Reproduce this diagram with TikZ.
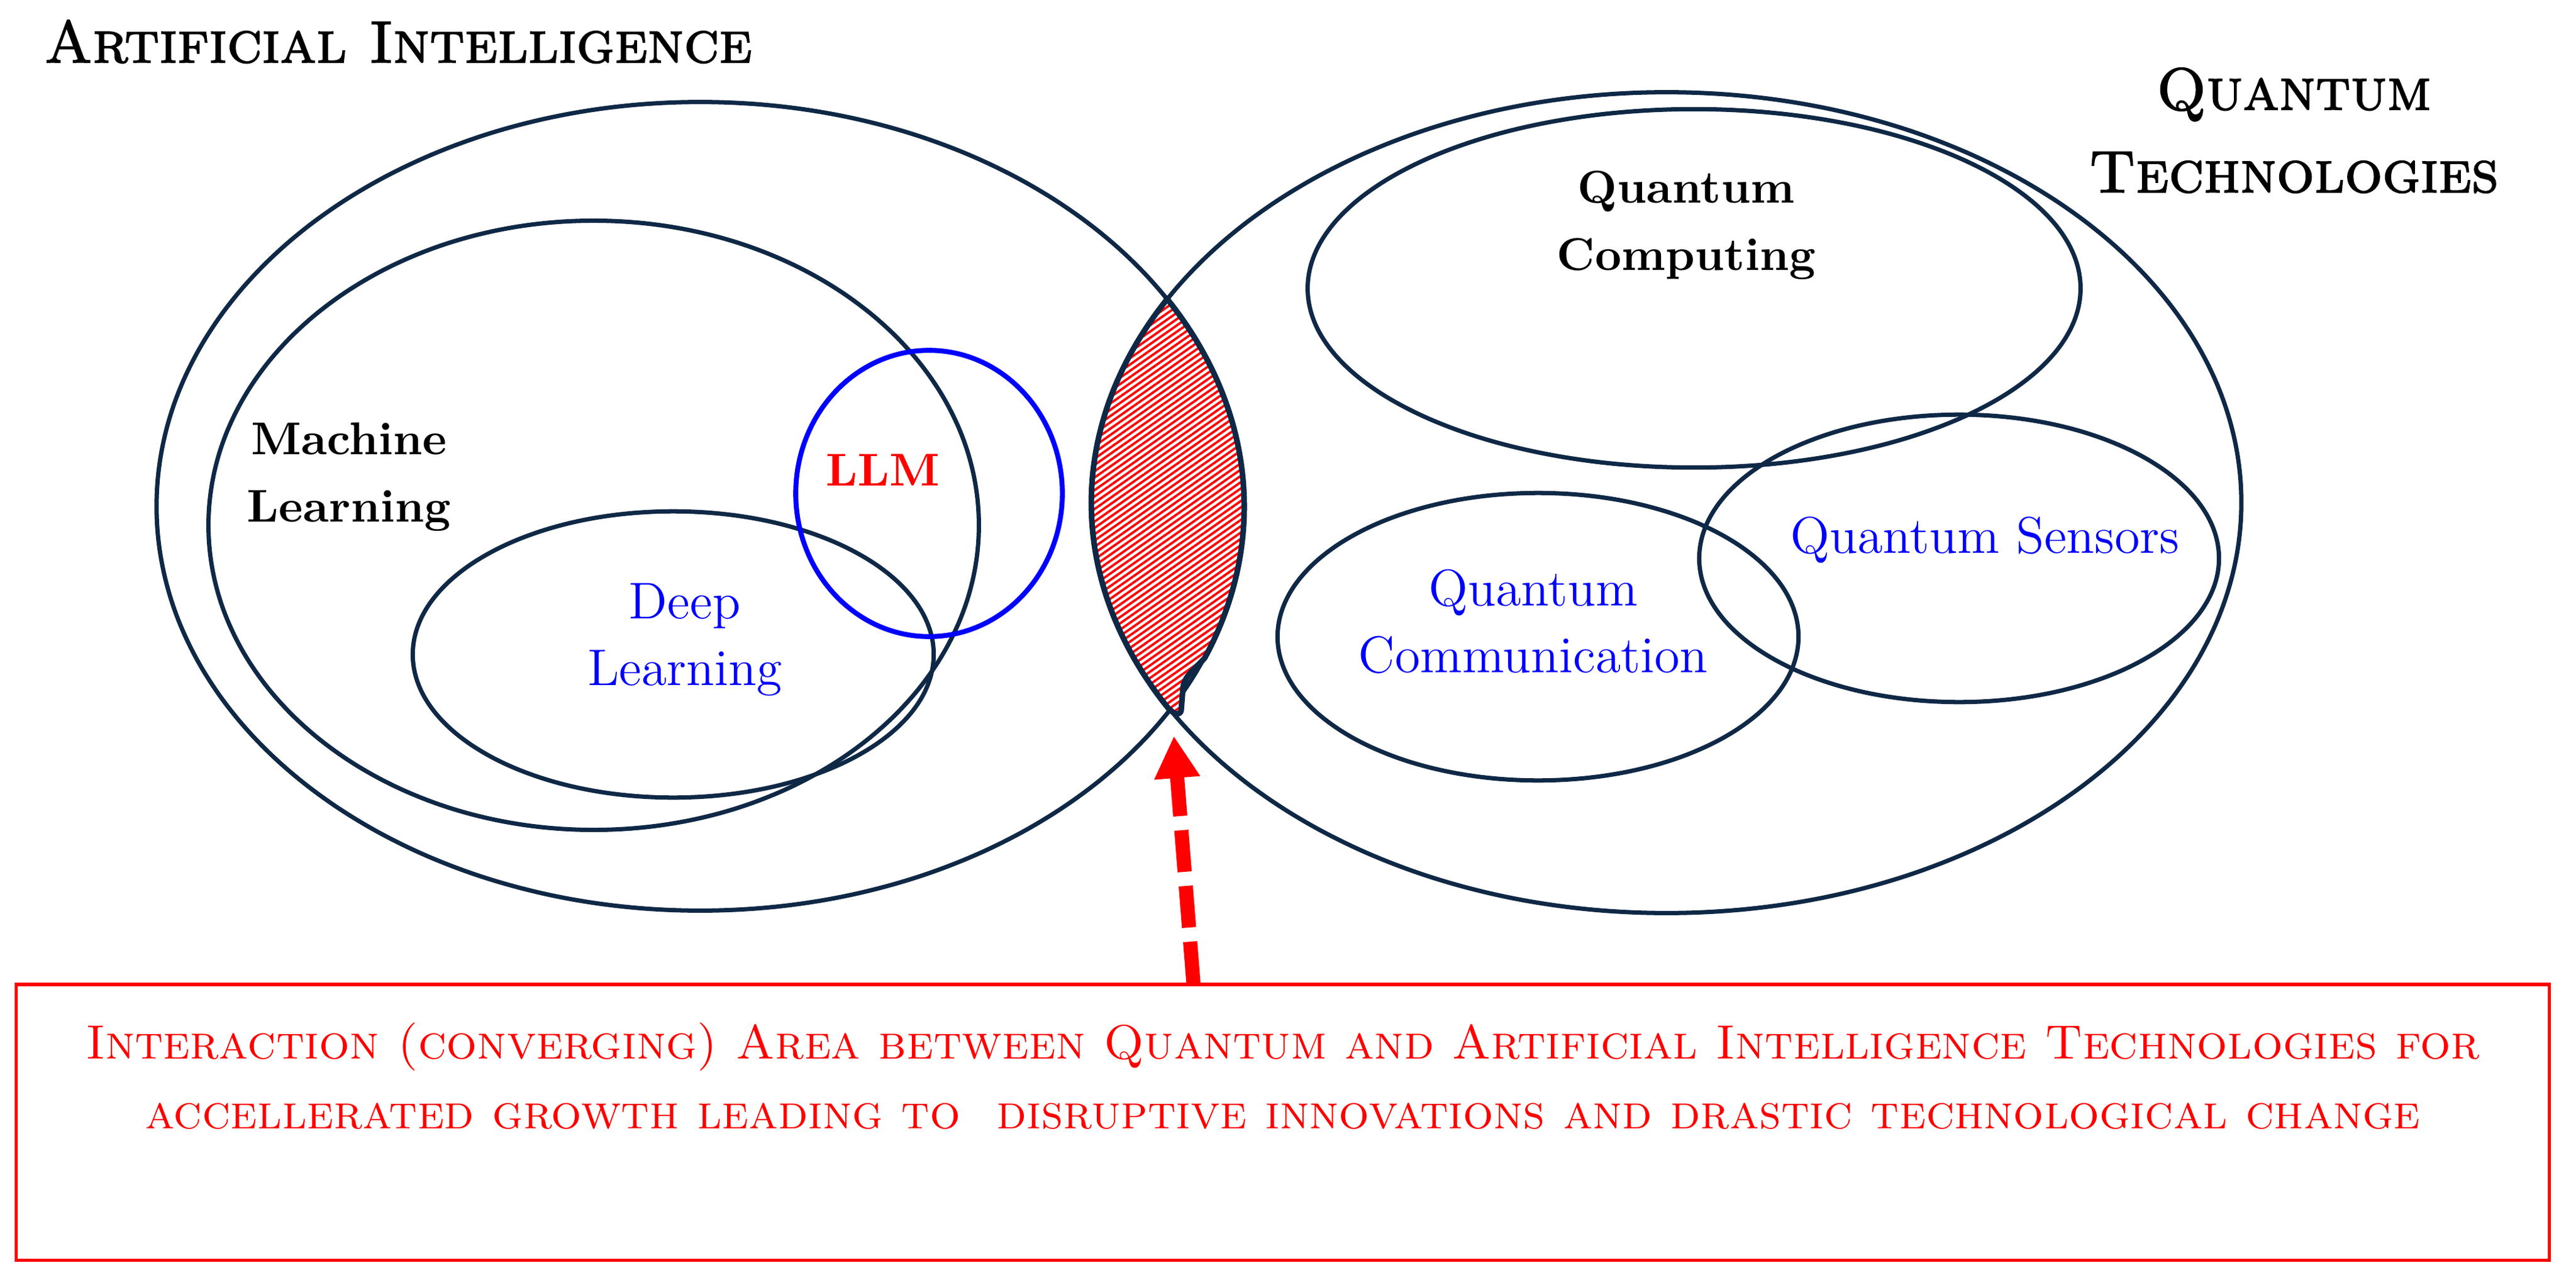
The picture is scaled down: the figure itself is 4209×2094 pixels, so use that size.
\documentclass[tikz,border=0pt]{standalone}
\usepackage{fontspec}
\usepackage{tikz}
\usetikzlibrary{shapes.geometric,positioning,arrows.meta,patterns.meta}

\newfontfamily\titleFont{lmromancaps10-regular.otf}[FakeBold=2]
\definecolor{lineNavy}{RGB}{14,40,70}

\tikzstyle{setNode} = [ellipse, draw=lineNavy, line width=1pt, inner sep=0pt]
\tikzstyle{llmNode} = [ellipse, draw=blue, line width=1.15pt, inner sep=0pt]
\tikzstyle{titleText} = [font=\fontsize{13.8}{19.2}\titleFont, align=center, inner sep=0pt]
\tikzstyle{boldText} = [font=\fontsize{10.7}{15.7}\selectfont\bfseries, align=center, inner sep=0pt]
\tikzstyle{blueText} = [font=\fontsize{12}{15.5}\selectfont, text=blue, align=center, inner sep=0pt]
\tikzstyle{infoText} = [font=\fontsize{11.2}{16.2}\selectfont\scshape, text=red, align=center, inner sep=0pt]
\tikzstyle{boxNode} = [rectangle, draw=red, line width=0.8pt]
\tikzstyle{lensArea} = [draw=lineNavy, line width=1.3pt, line join=round, preaction={fill=white}, pattern={Lines[angle=35,distance=1.2pt,line width=0.55pt]}, pattern color=red]
\tikzstyle{redArrow} = [red, line width=3.3pt, dash pattern=on 9.7pt off 3.3pt, -{Triangle[width=10pt,length=9.8pt]}]

\begin{document}
\begin{tikzpicture}[x=0.005cm, y=-0.005cm]
    \useasboundingbox (0,0) rectangle (4209,2094);

    % sets
    \node (ai)[setNode, minimum width=8.89cm, minimum height=6.61cm] at (1144,827) {};
    \node (qt)[setNode, minimum width=9.40cm, minimum height=6.71cm] at (2723,821) {};
    \node (ml)[setNode, minimum width=6.30cm, minimum height=4.98cm] at (970,858) {};
    \node (dl)[setNode, minimum width=4.26cm, minimum height=2.34cm] at (1100,1069) {};
    \node (llm)[llmNode, minimum width=2.18cm, minimum height=2.34cm] at (1518,806) {};
    \node (qc)[setNode, minimum width=6.32cm, minimum height=2.93cm] at (2768,471) {};
    \node (qcomm)[setNode, minimum width=4.26cm, minimum height=2.35cm] at (2513,1040) {};
    \node (qs)[setNode, minimum width=4.25cm, minimum height=2.35cm] at (3201,912) {};

    % labels
    \node (aiTitle)[titleText, anchor=base west] at (71,102) {Artificial Intelligence};
    \node (qtTitle)[titleText] at (3748,213) {Quantum\\Technologies};
    \node (mlText)[boldText] at (570,779) {Machine\\Learning};
    \node (llmText)[boldText, text=red] at (1443,768) {LLM};
    \node (dlText)[blueText] at (1119,1045) {Deep\\Learning};
    \node (qcText)[boldText] at (2755,368) {Quantum\\Computing};
    \node (qcommText)[blueText] at (2505,1015) {Quantum\\Communication};
    \node (qsText)[blueText] at (3243,882) {Quantum Sensors};

    % converging area
    \draw[lensArea] (1906,487) arc[start angle=-31, end angle=22, x radius=889, y radius=661]
        .. controls (1950,1095) and (1937,1102) .. (1933,1122) -- (1930,1160)
        .. controls (1929,1167) and (1922,1168) .. (1916,1163) -- (1909,1157)
        arc[start angle=150, end angle=209.85, x radius=940, y radius=671] -- cycle;

    % interaction box
    \node (interaction)[boxNode, minimum width=20.715cm, minimum height=2.255cm] at (2096,1833) {};
    \node (interactionText)[infoText, below=0.32cm of interaction.north] {Interaction (converging) Area between Quantum and Artificial Intelligence Technologies for\\accellerated growth leading to~ disruptive innovations and drastic technological change};

    \coordinate (lensTip) at (1918,1202);
    \coordinate (arrowFoot) at (1950,1606);
    \draw [redArrow] (arrowFoot) -- (lensTip);

\end{tikzpicture}
\end{document}
